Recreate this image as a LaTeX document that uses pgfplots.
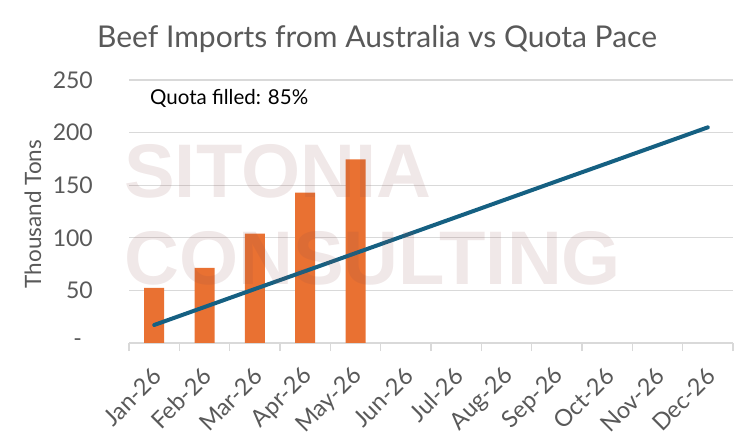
\documentclass[border=0pt]{standalone}
\usepackage{pgfplots}
\pgfplotsset{compat=1.18}
\usepackage{fontspec}
\setmainfont{Lato}
\newfontfamily\wmfont{Liberation Sans}
\definecolor{barorange}{HTML}{E97132}
\definecolor{lineblue}{HTML}{156082}
\definecolor{txtgray}{HTML}{595959}
\definecolor{gridgray}{HTML}{D9D9D9}
\definecolor{wmred}{RGB}{140,75,75}
\begin{document}
\begin{tikzpicture}[x=1pt,y=1pt]
\path[use as bounding box] (0,0) rectangle (753,439);
\begin{axis}[
  at={(129pt,96pt)}, anchor=south west,
  width=604pt, height=263pt, scale only axis,
  xmin=0.5, xmax=12.5, ymin=0, ymax=250,
  axis x line*=bottom, axis y line*=left,
  x axis line style={draw=gridgray, line width=1.2pt, -},
  y axis line style={draw=none},
  ytick={0,50,100,150,200,250},
  yticklabels={-\hspace*{11pt},50,100,150,200,250},
  ymajorgrids, grid style={draw=gridgray, line width=1.2pt},
  ytick style={draw=none},
  yticklabel style={anchor=east, inner sep=0pt, xshift=-28pt, text=txtgray, font=\fontsize{23}{27}\selectfont},
  xtick={0.5,1.5,...,12.5}, xticklabels={},
  tick align=outside, major tick length=8pt,
  xtick style={draw=gridgray, line width=1.2pt},
  extra x ticks={1,2,3,4,5,6,7,8,9,10,11,12},
  extra x tick labels={Jan-26,Feb-26,Mar-26,Apr-26,May-26,Jun-26,Jul-26,Aug-26,Sep-26,Oct-26,Nov-26,Dec-26},
  extra x tick style={major tick length=0pt, xmajorgrids=false,
    xticklabel style={xshift=3pt, yshift=-29pt, rotate=45, anchor=east, inner sep=0pt, text=txtgray, font=\fontsize{23.5}{27}\selectfont}},
  clip=false,
]
\addplot[ybar, bar width=20pt, fill=barorange, draw=none] coordinates {
  (1,52.5) (2,71.5) (3,104) (4,143) (5,174.5)
};
\addplot[lineblue, line width=4pt, line cap=round] coordinates {
  (1,17.1) (2,34.2) (3,51.3) (4,68.3) (5,85.4) (6,102.5) (7,119.6) (8,136.7) (9,153.8) (10,170.8) (11,187.9) (12,205)
};
\end{axis}
\node[anchor=base, inner sep=0pt, text=txtgray, font=\fontsize{30}{36}\selectfont] at (377,391) {Beef Imports from Australia vs Quota Pace};
\node[anchor=base west, inner sep=0pt, text=black, font=\fontsize{20.5}{24}\selectfont] at (150,334) {Quota filled: 85\%};
\node[rotate=90, text=txtgray, font=\fontsize{22.5}{26}\selectfont] at (33,225) {Thousand Tons};
\node[anchor=base west, inner sep=0pt, text=wmred, opacity=0.13, font=\wmfont\bfseries\fontsize{76}{80}\selectfont] at (124,241) {SITONIA};
\node[anchor=base west, inner sep=0pt, text=wmred, opacity=0.13, font=\wmfont\bfseries\fontsize{76}{80}\selectfont] at (124,154) {CONSULTING};
\end{tikzpicture}
\end{document}
